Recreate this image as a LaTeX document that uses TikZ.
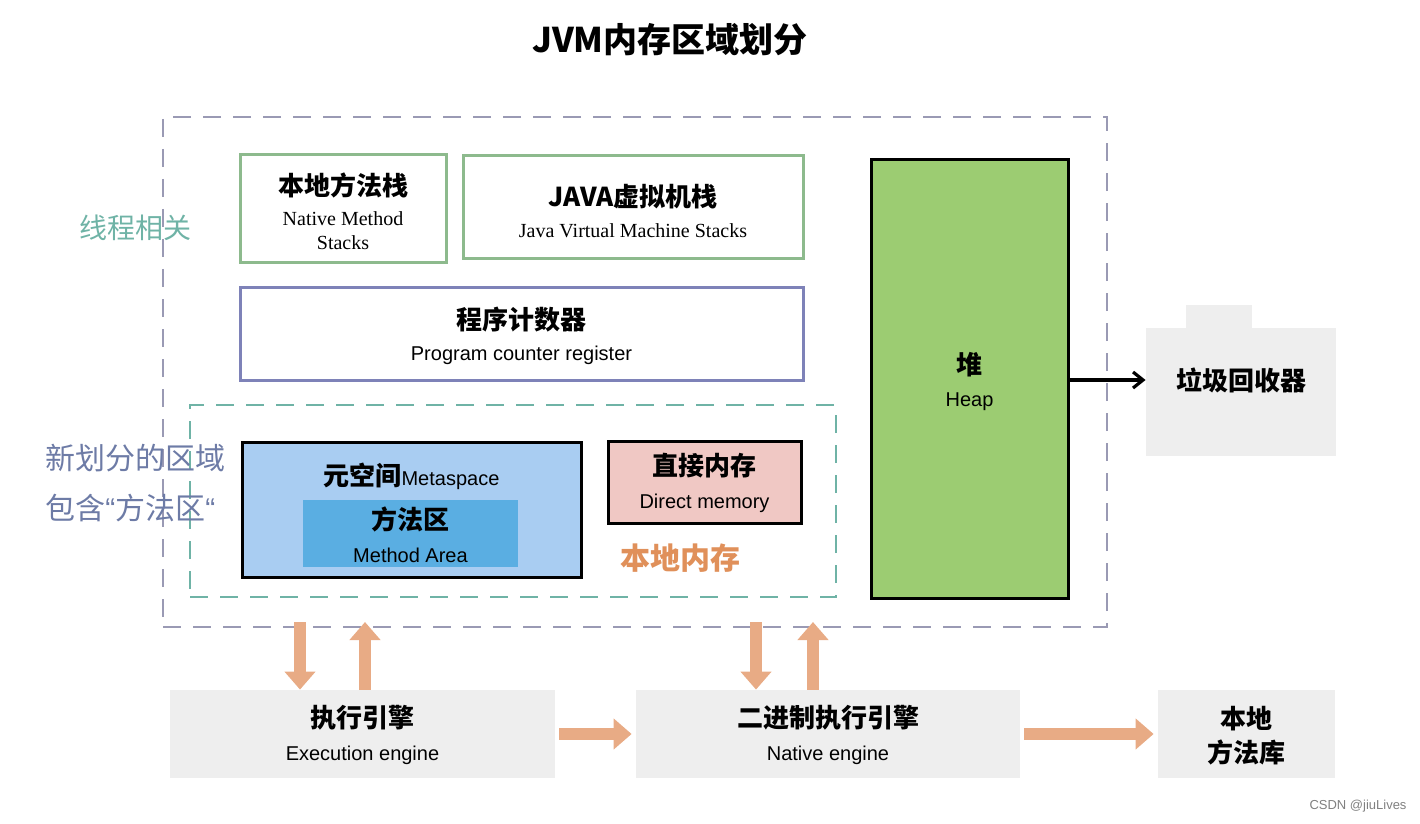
\documentclass[tikz,border=0pt]{standalone}
\usepackage{fontspec}
\setmainfont{Liberation Serif}
\newfontfamily\cjk{Noto Sans CJK SC}
\newfontfamily\sans{Liberation Sans}
\usetikzlibrary{arrows.meta}
\definecolor{dashgray}{HTML}{9A9AB4}
\definecolor{teal}{HTML}{6FB3A6}
\definecolor{gborder}{HTML}{8DBA8D}
\definecolor{pborder}{HTML}{7E82B8}
\definecolor{metaf}{HTML}{A9CDF2}
\definecolor{methf}{HTML}{5AAEE2}
\definecolor{dirf}{HTML}{F0C8C4}
\definecolor{heapf}{HTML}{9CCC72}
\definecolor{boxg}{HTML}{EEEEEE}
\definecolor{orng}{HTML}{E8AB85}
\definecolor{otext}{HTML}{E0905A}
\definecolor{bluegray}{HTML}{6D7BA6}
\begin{document}
\begin{tikzpicture}[x=0.5pt,y=-0.5pt,
  box/.style={draw,inner sep=0,line width=1.5pt},
  gbox/.style={fill=boxg,inner sep=0},
  zh/.style={font=\cjk\bfseries\fontsize{13}{15}\selectfont},
  en/.style={font=\sans\fontsize{10}{12}\selectfont},
  ser/.style={font=\fontsize{10}{11}\selectfont},
  fat/.style={orng,line width=6pt,-{Triangle[length=9pt,width=15pt]}}]
\useasboundingbox (0,0) rectangle (1420,824);
\node[font=\cjk\bfseries\fontsize{17}{20}\selectfont] (title) at (670,40) {JVM内存区域划分};
\node[draw=dashgray,dashed,dash pattern=on 9pt off 6pt,line width=1.2pt,minimum width=472pt,minimum height=255pt,inner sep=0] (outer) at (635,372) {};
\node[font=\cjk\fontsize{14}{16}\selectfont,text=teal] (thr) at (135,228) {线程相关};
\node[box,draw=gborder,minimum width=103pt,minimum height=53.5pt] (nms) at (343,208.5) {};
\node[zh] (nms1) at (343,185) {本地方法栈};
\node[ser,align=center] (nms2) at (343,231) {Native Method\\[1pt]Stacks};
\node[box,draw=gborder,minimum width=170pt,minimum height=51pt] (jvs) at (633,207) {};
\node[zh] (jvs1) at (633,197) {JAVA虚拟机栈};
\node[ser] (jvs2) at (633,231) {Java Virtual Machine Stacks};
\node[box,draw=pborder,minimum width=281.5pt,minimum height=46.5pt] (pc) at (521.5,333.5) {};
\node[zh] (pc1) at (521.5,320) {程序计数器};
\node[en] (pc2) at (521.5,355) {Program counter register};
\node[draw=teal,dashed,dash pattern=on 9pt off 6pt,line width=1.3pt,minimum width=323pt,minimum height=96pt,inner sep=0] (newr) at (513,501) {};
\node[font=\cjk\fontsize{15}{17}\selectfont,text=bluegray,anchor=west,inner sep=0] (nr1) at (45,458) {新划分的区域};
\node[font=\cjk\fontsize{15}{17}\selectfont,text=bluegray,anchor=west,inner sep=0] (nr2) at (45,508) {包含{\sans“}方法区{\sans“}};
\node[box,fill=metaf,minimum width=169.5pt,minimum height=67.5pt] (meta) at (411.5,509.5) {};
\node[font=\cjk\bfseries\fontsize{13}{15}\selectfont] (meta1) at (411.5,476) {元空间{\sans\mdseries\fontsize{10}{12}\selectfont Metaspace}};
\node[fill=methf,inner sep=0,minimum width=107.5pt,minimum height=33.5pt] (meth) at (410.5,533.5) {};
\node[zh] (meth1) at (410.5,519) {方法区};
\node[en] (meth2) at (410.5,555) {Method Area};
\node[box,fill=dirf,minimum width=96.5pt,minimum height=41pt] (dir) at (704.5,482) {};
\node[zh] (dir1) at (704.5,466) {直接内存};
\node[en] (dir2) at (704.5,503) {Direct memory};
\node[font=\cjk\bfseries\fontsize{15}{17}\selectfont,text=otext] (loc) at (680,558) {本地内存};
\node[box,fill=heapf,minimum width=98.5pt,minimum height=219pt] (heap) at (969.5,379) {};
\node[zh] (heap1) at (969.5,365) {堆};
\node[en] (heap2) at (969.5,402) {Heap};
\node[gbox,minimum width=33pt,minimum height=12pt] (gctab) at (1219,317) {};
\node[gbox,minimum width=95pt,minimum height=64pt] (gc) at (1241,392) {};
\node[zh] (gc1) at (1241,380) {垃圾回收器};
\draw[line width=1.6pt,-{Straight Barb[length=5pt,width=8pt]}] (heap.east |- gc1) -- (gc.west |- gc1);
\node[gbox,minimum width=192.5pt,minimum height=44pt] (exe) at (362.5,734) {};
\node[zh] (exe1) at (362.5,718) {执行引擎};
\node[en] (exe2) at (362.5,755) {Execution engine};
\node[gbox,minimum width=192pt,minimum height=44pt] (nat) at (828,734) {};
\node[zh] (nat1) at (828,718) {二进制执行引擎};
\node[en] (nat2) at (828,755) {Native engine};
\node[gbox,minimum width=88.5pt,minimum height=44pt] (lib) at (1246.5,734) {};
\node[zh,align=center] (lib1) at (1246.5,736) {本地\\[2pt]方法库};
\coordinate (d1) at (300,622); \coordinate (u1) at (365,622);
\coordinate (d2) at (756,622); \coordinate (u2) at (813,622);
\draw[fat] (d1) -- (exe.north -| d1);
\draw[fat] (exe.north -| u1) -- (u1);
\draw[fat] (d2) -- (nat.north -| d2);
\draw[fat] (nat.north -| u2) -- (u2);
\draw[fat] ([xshift=2pt]exe.east) -- ([xshift=-2pt]nat.west);
\draw[fat] ([xshift=2pt]nat.east) -- ([xshift=-2pt]lib.west);
\node[font=\sans\fontsize{6.5}{8}\selectfont,text=gray] (csdn) at (1358,806) {CSDN @jiuLives};
\end{tikzpicture}
\end{document}
